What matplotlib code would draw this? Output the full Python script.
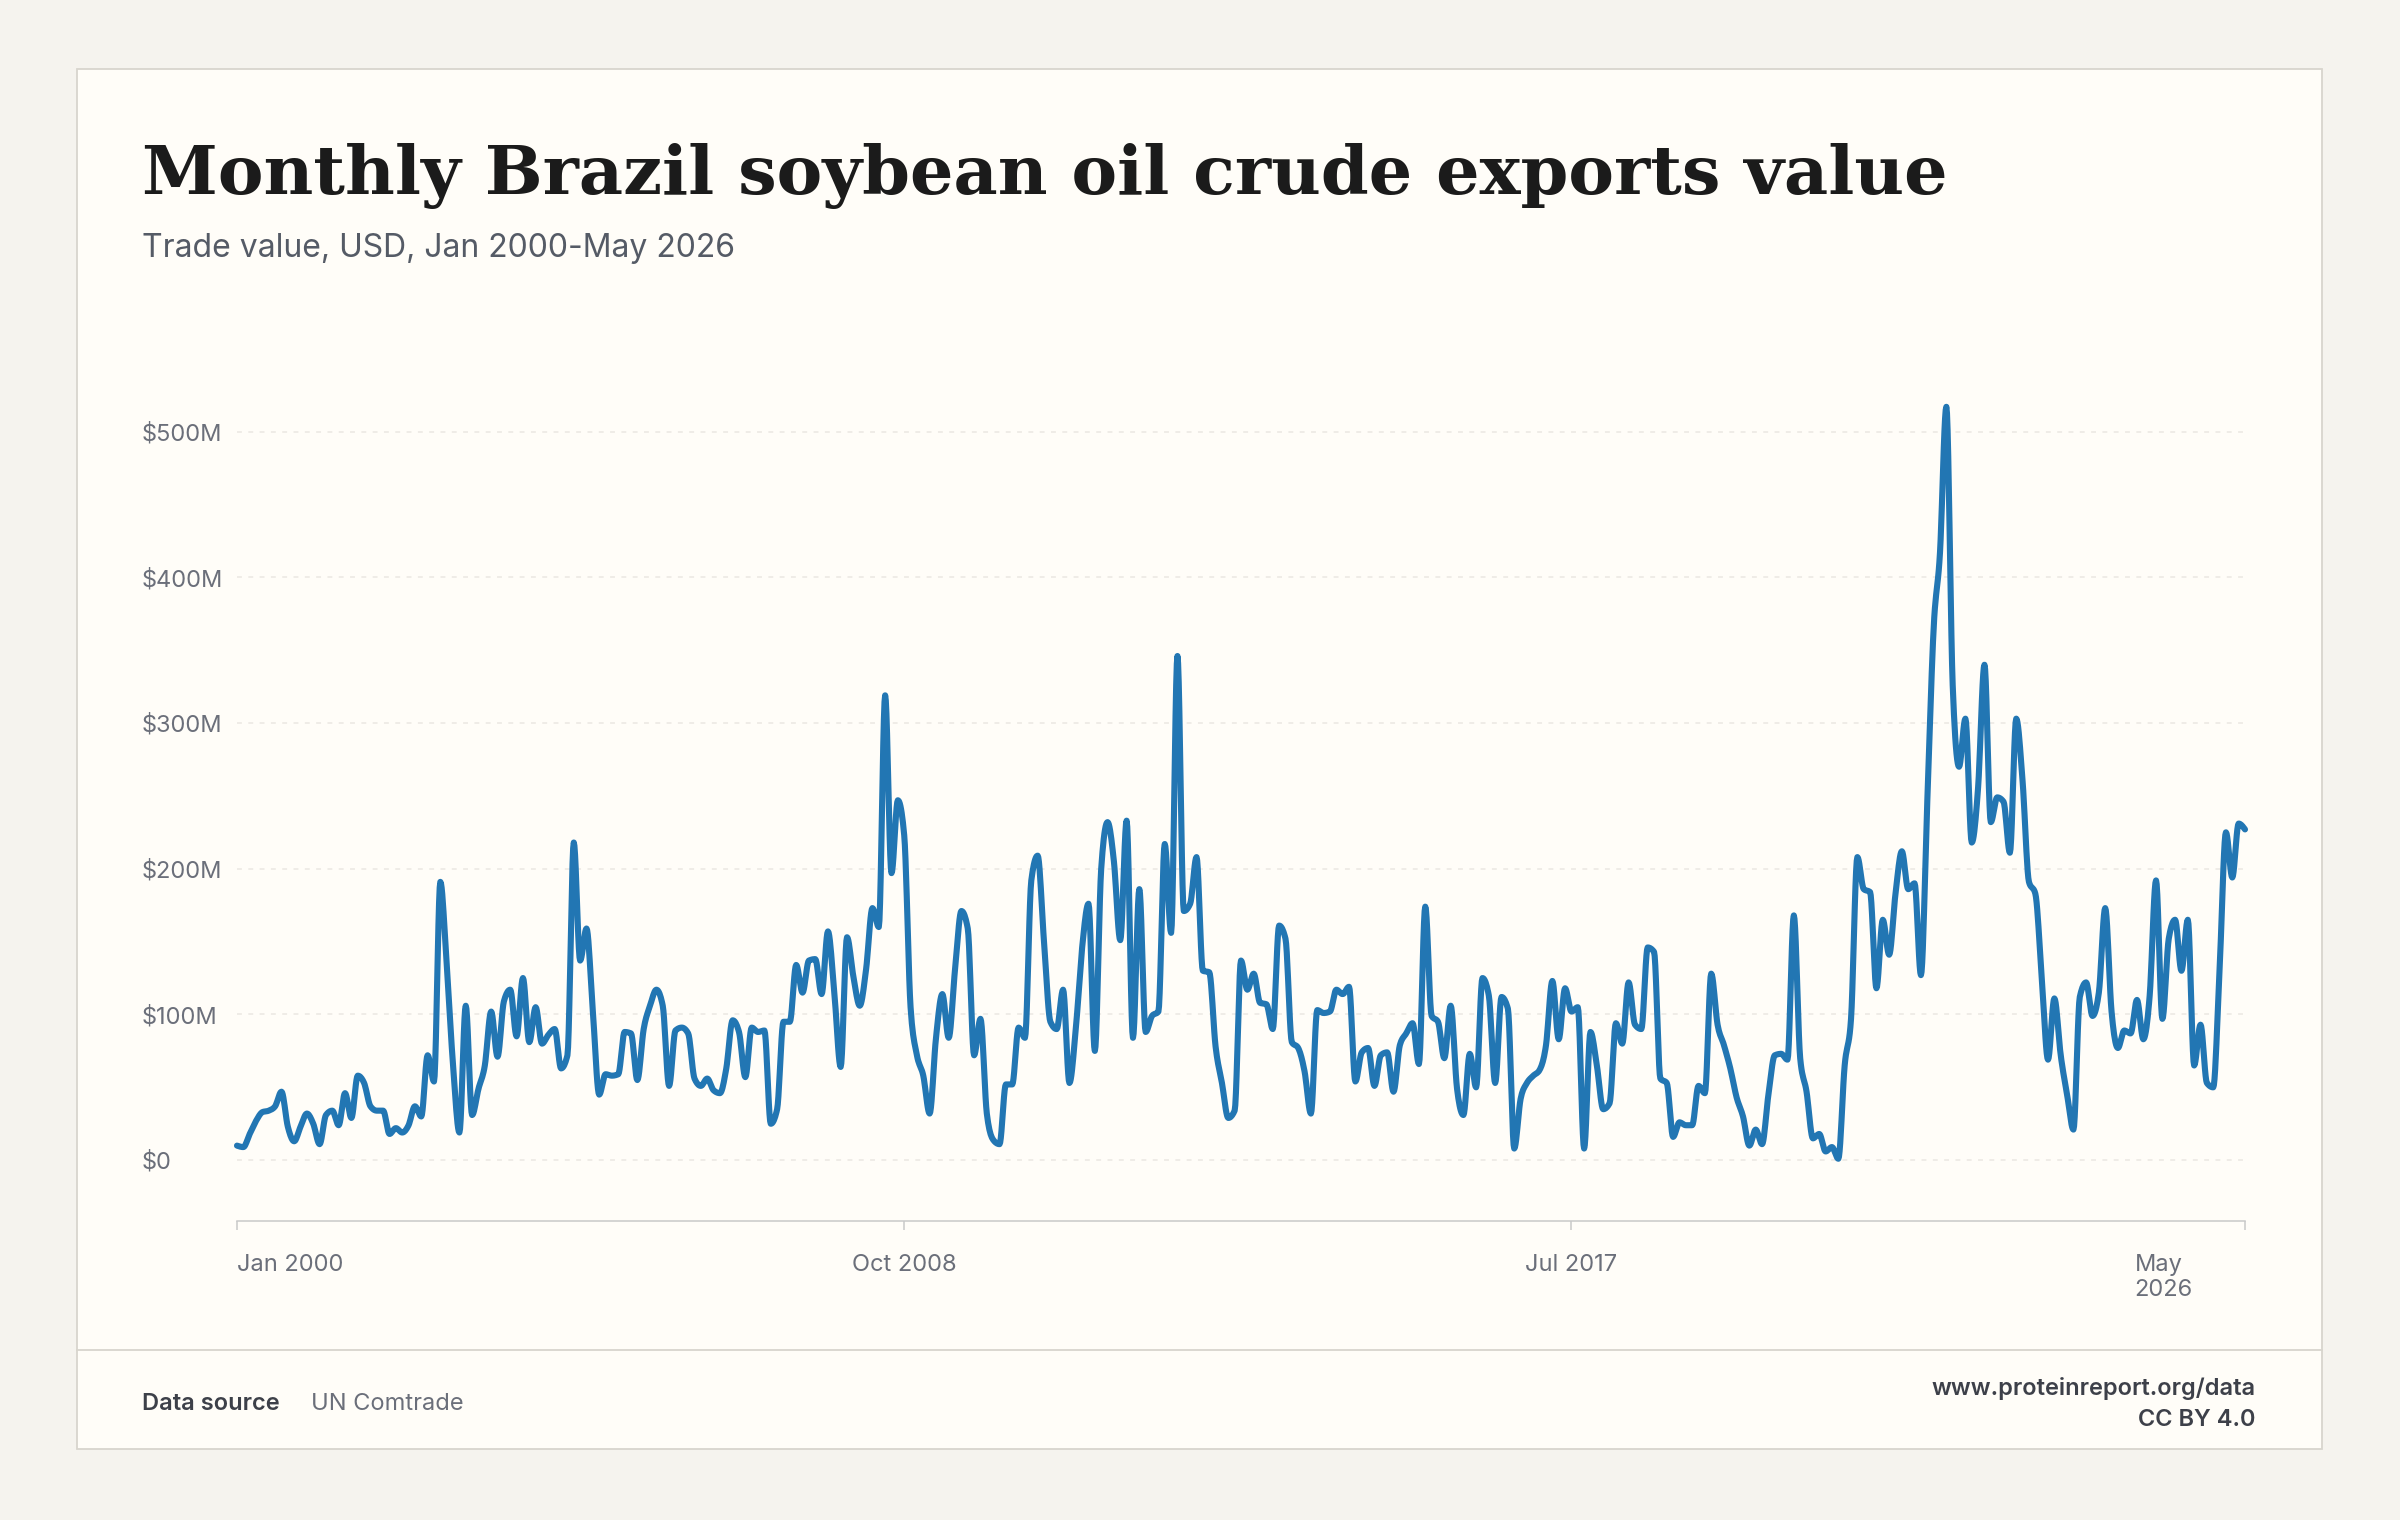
import numpy as np
import pandas as pd
import matplotlib
matplotlib.use("Agg")
import matplotlib.pyplot as plt
import matplotlib.transforms as mtrans
from matplotlib.patches import Rectangle
from matplotlib.lines import Line2D

# ---------------- data ----------------
months = pd.date_range("2000-01-01", "2026-05-01", freq="MS")  # 317 months

# monthly export value, million USD
values_musd = [
    10, 9, 18, 27, 33, 34, 37, 47, 23, 13, 23, 32, 25, 11, 31, 34, 24, 46, 29, 58,
    53, 37, 34, 34, 18, 22, 19, 24, 37, 30, 72, 54, 191, 134, 65, 19, 106, 31, 49, 65,
    102, 71, 109, 117, 85, 125, 81, 105, 80, 86, 90, 63, 72, 218, 137, 159, 102, 45, 59, 58,
    59, 88, 87, 55, 90, 106, 117, 106, 51, 89, 91, 87, 56, 51, 56, 48, 46, 63, 96, 88,
    57, 91, 88, 89, 25, 35, 95, 95, 134, 115, 137, 138, 114, 157, 115, 64, 153, 126, 106, 131,
    173, 160, 319, 197, 247, 223, 105, 72, 58, 32, 84, 114, 84, 131, 171, 159, 72, 97, 32, 14,
    11, 52, 52, 91, 84, 192, 209, 150, 95, 90, 117, 53, 90, 146, 176, 75, 200, 232, 205, 151,
    233, 84, 186, 88, 99, 102, 217, 156, 346, 171, 176, 208, 130, 129, 78, 53, 29, 34, 137, 117,
    128, 108, 107, 90, 161, 152, 81, 77, 61, 32, 103, 101, 102, 117, 114, 119, 54, 74, 77, 51,
    72, 74, 47, 79, 87, 94, 66, 174, 99, 95, 70, 106, 49, 31, 73, 50, 125, 113, 53, 112,
    104, 8, 42, 53, 58, 62, 79, 123, 83, 118, 102, 105, 8, 88, 65, 35, 39, 94, 80, 122,
    93, 90, 146, 143, 56, 53, 16, 26, 24, 24, 51, 46, 128, 93, 79, 63, 43, 30, 10, 21,
    11, 45, 72, 73, 69, 168, 70, 47, 15, 18, 6, 9, 1, 65, 97, 208, 186, 184, 118, 165,
    141, 183, 212, 186, 190, 127, 246, 365, 417, 517, 326, 270, 303, 218, 256, 340, 232, 249, 246, 211,
    303, 260, 191, 183, 127, 69, 111, 72, 45, 21, 112, 122, 99, 115, 173, 102, 77, 89, 87, 110,
    83, 113, 192, 97, 152, 165, 130, 165, 65, 93, 53, 50, 131, 225, 194, 231, 227,
]

x_tick_months = ["2000-01-01", "2008-10-01", "2017-07-01", "2026-05-01"]
x_tick_labels = ["Jan 2000", "Oct 2008", "Jul 2017", "May\n2026"]
y_ticks = [0, 100, 200, 300, 400, 500]
y_tick_labels = ["$0", "$100M", "$200M", "$300M", "$400M", "$500M"]

title = "Monthly Brazil soybean oil crude exports value"
subtitle = "Trade value, USD, Jan 2000-May 2026"
source_label = "Data source"
source_name = "UN Comtrade"
site = "www.proteinreport.org/data"
license_txt = "CC BY 4.0"

# ---------------- helpers ----------------
def monotone_curve(y, steps=10):
    """Monotone cubic (d3 curveMonotoneX style) rendering of a series on x = 0..n-1."""
    y = np.asarray(y, float)
    n = len(y)
    s = np.diff(y)
    m = np.zeros(n)
    for k in range(1, n - 1):
        s0, s1 = s[k - 1], s[k]
        p = (s0 + s1) / 2.0
        m[k] = (np.sign(s0) + np.sign(s1)) * min(abs(s0), abs(s1), 0.5 * abs(p))
    m[0] = (3 * s[0] - m[1]) / 2.0
    m[-1] = (3 * s[-1] - m[-2]) / 2.0
    t = np.linspace(0, 1, steps, endpoint=False)
    h00 = 2 * t**3 - 3 * t**2 + 1
    h10 = t**3 - 2 * t**2 + t
    h01 = -2 * t**3 + 3 * t**2
    h11 = t**3 - t**2
    xs, ys = [], []
    for k in range(n - 1):
        xs.append(k + t)
        ys.append(h00 * y[k] + h10 * m[k] + h01 * y[k + 1] + h11 * m[k + 1])
    xs.append(np.array([n - 1.0]))
    ys.append(np.array([y[-1]]))
    return np.concatenate(xs), np.concatenate(ys)

# ---------------- figure ----------------
W, H = 2400, 1520
fig = plt.figure(figsize=(24, 15.2), dpi=100)
fig.patch.set_facecolor("#f5f3ee")

def fx(px):
    return px / W

def fy(py):
    return 1 - py / H

card = Rectangle((fx(77), fy(1449)), fx(2322) - fx(77), fy(69) - fy(1449),
                 transform=fig.transFigure, facecolor="#fffdf8",
                 edgecolor="#d8d5cd", linewidth=1.3, zorder=-10)
fig.add_artist(card)
fig.add_artist(Line2D([fx(77), fx(2322)], [fy(1350), fy(1350)],
                      transform=fig.transFigure, color="#d8d5cd", lw=1.3, zorder=-9))

sans = ["Inter", "DejaVu Sans"]

fig.text(fx(142), fy(194), title, family=["DejaVu Serif"],
         fontweight="bold", fontsize=49.3, color="#1b1b1b", va="baseline", ha="left")
fig.text(fx(142), fy(257), subtitle, family=sans, fontsize=23,
         color="#555b66", va="baseline", ha="left")

fig.text(fx(142), fy(1404), source_label, family=sans, fontweight="semibold",
         fontsize=17, color="#3d4049", va="center", ha="left")
fig.text(fx(311), fy(1404), source_name, family=sans,
         fontsize=17, color="#6b6f7a", va="center", ha="left")
fig.text(fx(2256), fy(1389), site, family=sans, fontweight="semibold",
         fontsize=17, color="#3d4049", va="center", ha="right")
fig.text(fx(2256), fy(1420), license_txt, family=sans, fontweight="semibold",
         fontsize=17, color="#3d4049", va="center", ha="right")

# axes: x from Jan 2000 (px 237) to May 2026 (px 2245); y axis line at px 1221
ax_left, ax_right, ax_bottom, ax_top = 237, 2245, 1221, 340
ax = fig.add_axes([fx(ax_left), fy(ax_bottom), fx(ax_right) - fx(ax_left),
                   fy(ax_top) - fy(ax_bottom)])
ax.set_facecolor("none")
ax.set_zorder(1)

assert len(values_musd) == len(months)
xs, ys = monotone_curve(values_musd)
ax.plot(xs, ys, color="#2276b3", lw=4.4, solid_joinstyle="round",
        solid_capstyle="round", clip_on=False, zorder=3)

px_per_m = (1160.2 - 431.6) / 500.0
ax.set_xlim(0, len(months) - 1)
ax.set_ylim(-(ax_bottom - 1160.2) / px_per_m, (1160.2 - ax_top) / px_per_m)

for sp in ["top", "right", "left"]:
    ax.spines[sp].set_visible(False)
ax.spines["bottom"].set_color("#c9c9c9")
ax.spines["bottom"].set_linewidth(1.1)

ax.set_yticks(y_ticks)
ax.set_yticklabels(y_tick_labels)
ax.tick_params(axis="y", length=0, pad=(ax_left - 142) * 72 / 100,
               labelsize=17, labelcolor="#6b6f7a")
for lab in ax.get_yticklabels():
    lab.set_horizontalalignment("left")
    lab.set_fontfamily(sans)

ax.yaxis.grid(True, color="#ebe8e2", lw=1.1, linestyle=(0, (3.2, 4.2)))
ax.xaxis.grid(False)
ax.set_axisbelow(True)

tick_pos = [months.get_loc(pd.Timestamp(m)) for m in x_tick_months]
ax.set_xticks(tick_pos)
ax.set_xticklabels(x_tick_labels)
ax.tick_params(axis="x", length=6.5, width=1.1, color="#c9c9c9", pad=17,
               labelsize=17, labelcolor="#6b6f7a")
xl = ax.get_xticklabels()
for lab in xl:
    lab.set_fontfamily(sans)
    lab.set_linespacing(1.2)
xl[0].set_horizontalalignment("left")
xl[-1].set_horizontalalignment("right")
xl[-1].set_multialignment("left")
xl[-1].set_transform(xl[-1].get_transform() +
                     mtrans.ScaledTranslation(-52 / 100, 0, fig.dpi_scale_trans))

fig.savefig("out.png", dpi=100, facecolor=fig.get_facecolor())
